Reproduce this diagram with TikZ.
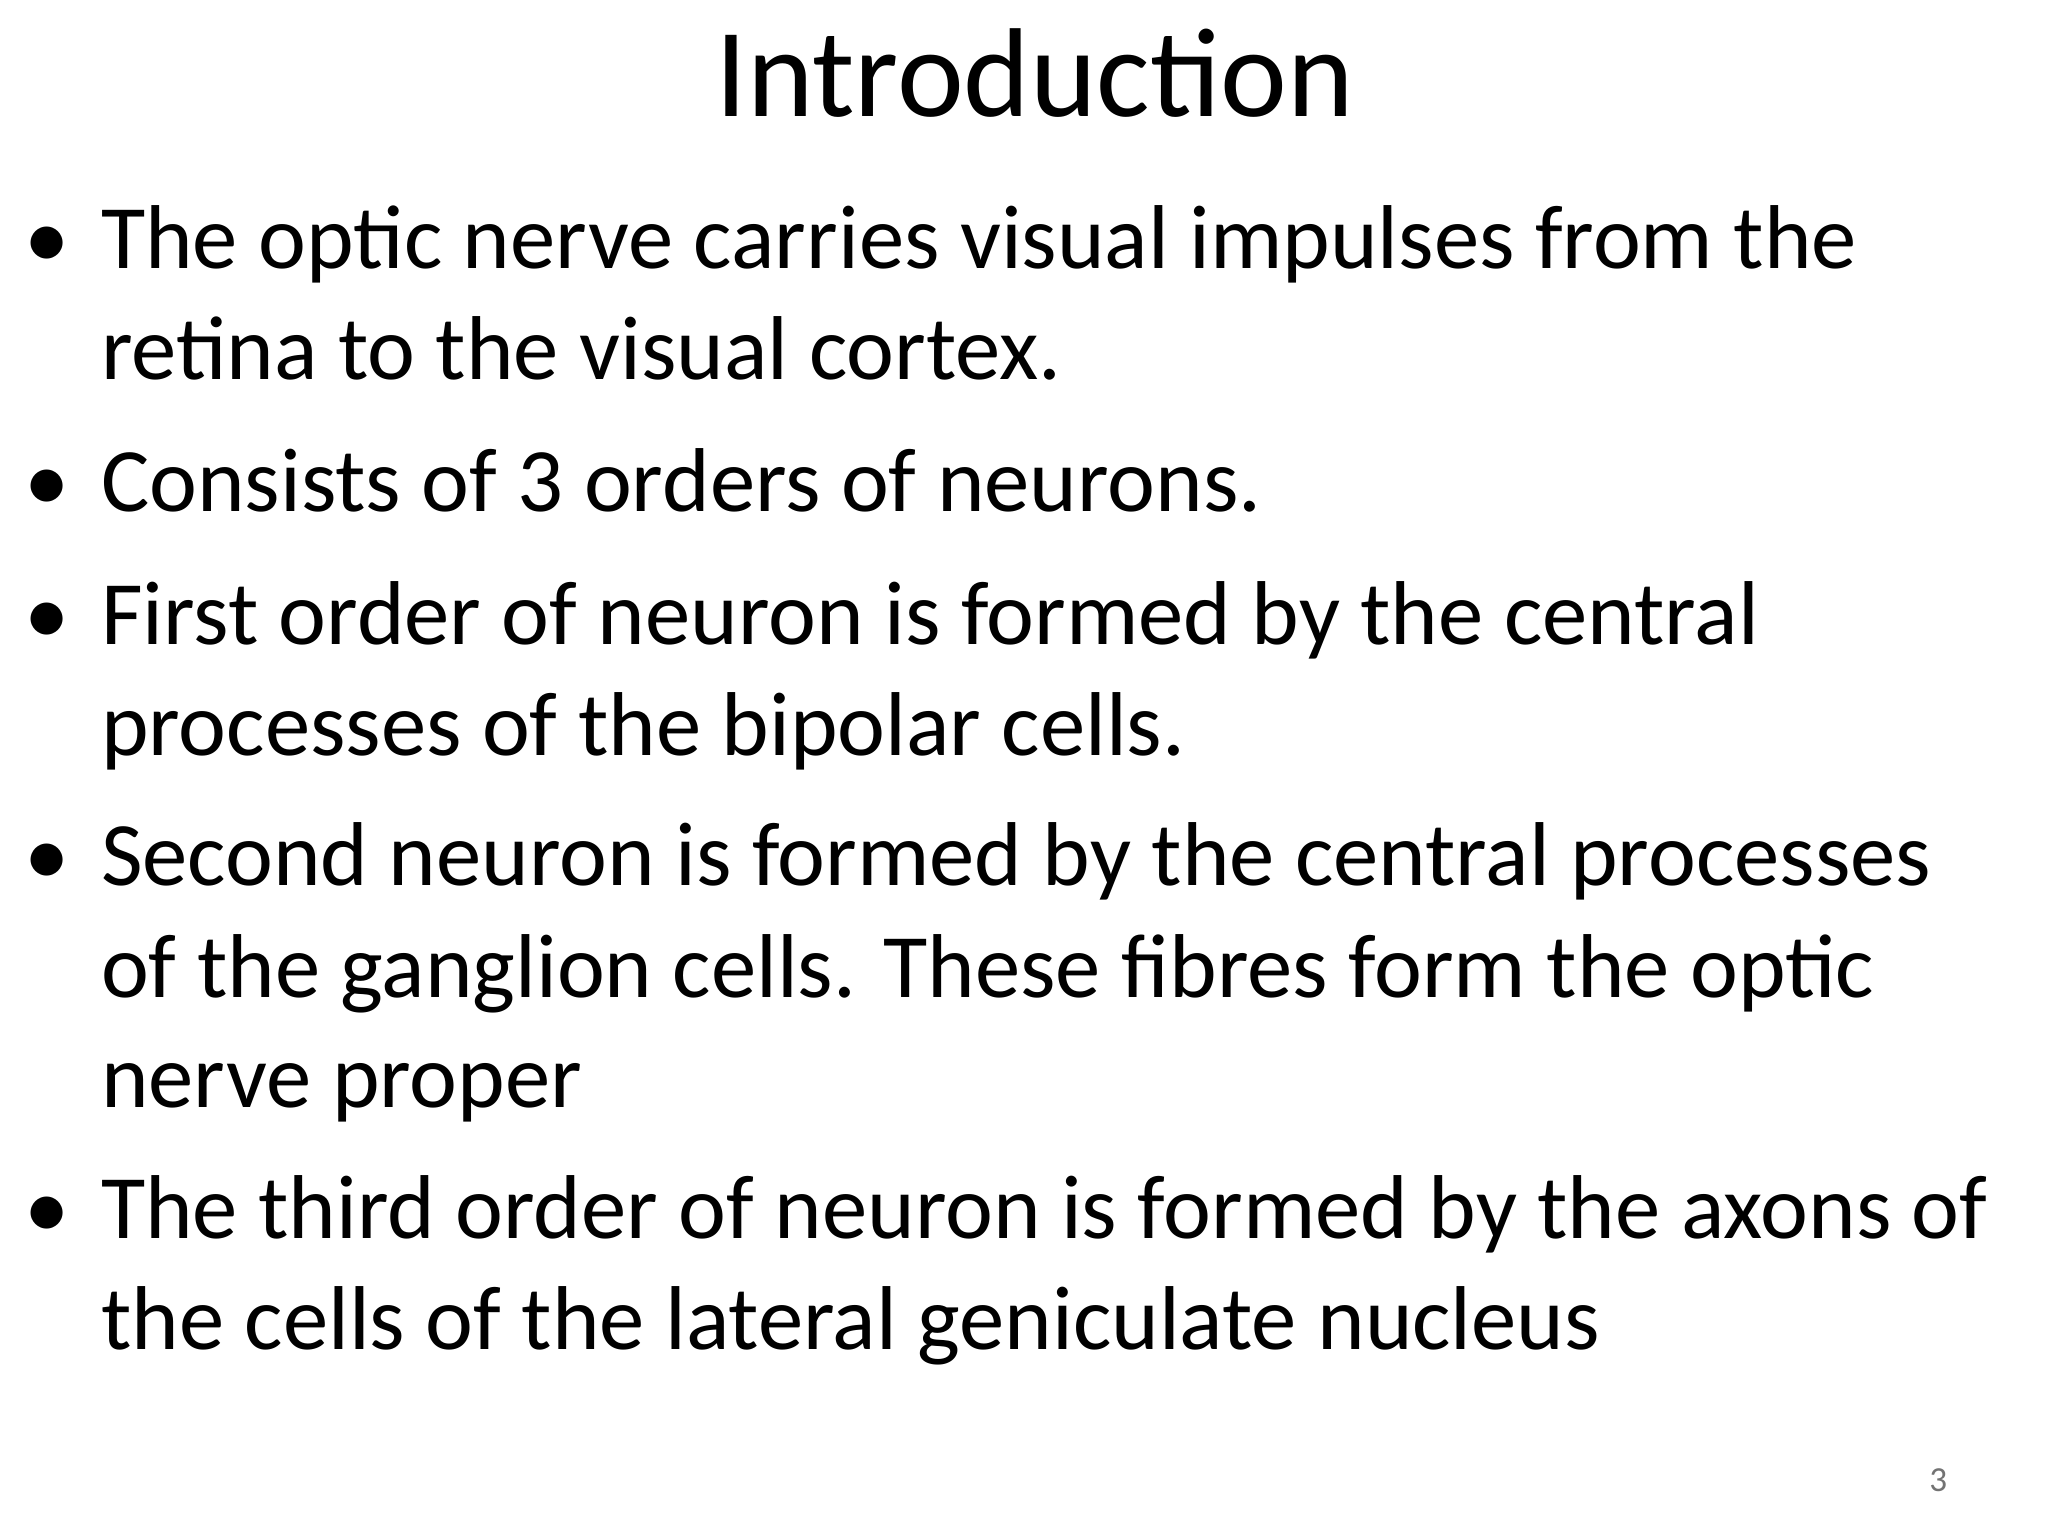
\documentclass[tikz,border=0pt]{standalone}
\usepackage{fontspec}
\setmainfont{Carlito}
\begin{document}
\begin{tikzpicture}[x=0.013213cm,y=-0.013213cm,
  ln/.style={anchor=base west,inner sep=0,font=\fontsize{25.8}{31}\selectfont},
  bl/.style={anchor=base west,inner sep=0,font=\fontsize{25.8}{31}\selectfont}]
\useasboundingbox (0,0) rectangle (1550,1162.5);
\node[anchor=base,inner sep=0,font=\fontsize{36}{40}\selectfont] (title) at (783,88) {Introduction};
\foreach \n/\y in {b1/203,b2/387,b3/670,b4/937,b5/1221}{}
\node[bl] (b1) at (18,203) {•};
\node[bl] (b2) at (18,387) {•};
\node[bl] (b3) at (18,488) {•};
\node[bl] (b4) at (18,670) {•};
\node[bl] (b5) at (18,937) {•};
\node[ln] (l1) at (76,203) {The optic nerve carries visual impulses from the};
\node[ln] (l2) at (76,287) {retina to the visual cortex.};
\node[ln] (l3) at (76,387) {Consists of 3 orders of neurons.};
\node[ln] (l4) at (76,488) {First order of neuron is formed by the central};
\node[ln] (l5) at (76,572) {processes of the bipolar cells.};
\node[ln] (l6) at (76,670) {Second neuron is formed by the central processes};
\node[ln] (l7) at (76,755) {of the ganglion cells. These fibres form the optic};
\node[ln] (l8) at (76,838) {nerve proper};
\node[ln] (l9) at (76,937) {The third order of neuron is formed by the axons of};
\node[ln] (l10) at (76,1021) {the cells of the lateral geniculate nucleus};
\node[anchor=base,inner sep=0,font=\fontsize{10}{12}\selectfont,text=black!55] (pg) at (1467,1129) {3};
\end{tikzpicture}
\end{document}
